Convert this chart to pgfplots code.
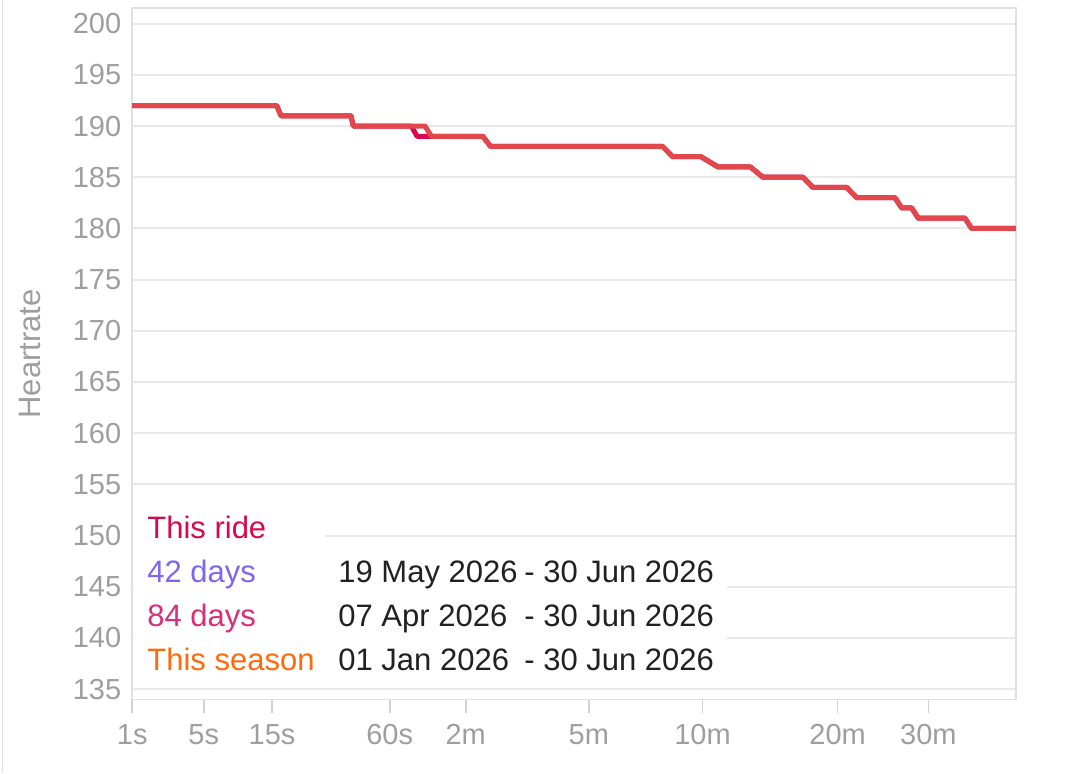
\documentclass[border=0pt]{standalone}
\usepackage{fontspec}
\setmainfont{Liberation Sans}
\usepackage{pgfplots}
\pgfplotsset{compat=1.18}

\definecolor{ticktext}{HTML}{9E9E9E}
\definecolor{gridgray}{HTML}{E9E9E9}
\definecolor{framegray}{HTML}{E0E0E0}
\definecolor{tickgray}{HTML}{D2D2D2}
\definecolor{rideColor}{HTML}{D6084F}
\definecolor{bestColor}{HTML}{E1474B}
\definecolor{days42}{HTML}{7B68EE}
\definecolor{days84}{HTML}{D92E7A}
\definecolor{season}{HTML}{FF6A0D}
\definecolor{datetext}{HTML}{212121}

% mean-maximal heart rate: duration (s), bpm
\pgfplotstableread{
t    hr
1    192
16   192
17   191
40   191
41   190
74   190
78   189
138  189
147  188
477  188
506  187
595  187
654  186
778  186
830  185
1016 185
1066 184
1252 184
1311 183
1558 183
1604 182
1676 182
1724 181
2097 181
2155 180
2568 180
}\rideData

\pgfplotstableread{
t    hr
1    192
16   192
17   191
40   191
41   190
84   190
89   189
138  189
147  188
477  188
506  187
595  187
654  186
778  186
830  185
1016 185
1066 184
1252 184
1311 183
1558 183
1604 182
1676 182
1724 181
2097 181
2155 180
2568 180
}\bestData

\begin{document}
\begin{tikzpicture}
\useasboundingbox (-66.15pt,-36.85pt) rectangle (473.85pt,349.65pt);
\draw[framegray, line width=0.6pt] (-64.8pt,-36.85pt) -- (-64.8pt,349.65pt);
\begin{axis}[
  at={(0,0)}, anchor=south west,
  scale only axis, width=441.7pt, height=345.5pt,
  xmin=1, xmax=2568, ymin=134, ymax=201.5,
  x coord trafo/.code={\pgfmathparse{(#1)^0.25}},
  x coord inv trafo/.code={\pgfmathparse{(#1)^4}},
  xtick={1,5,15,60,120,300,600,1200,1800},
  xticklabels={1s,5s,15s,60s,2m,5m,10m,20m,30m},
  ytick={135,140,...,200},
  ymajorgrids,
  grid style={gridgray, line width=1pt},
  axis line style={framegray, line width=0.8pt},
  tick pos=left,
  tick align=outside,
  major tick length=7pt,
  xtick style={tickgray, line width=0.8pt},
  ytick style={draw=none},
  /pgf/number format/assume math mode=true,
  ticklabel style={font=\fontsize{14.5}{16}\selectfont, text=ticktext},
  yticklabel style={xshift=5pt},
  xticklabel style={yshift=-2pt},
  ylabel={Heartrate},
  ylabel style={at={(axis description cs:-0.1158,0.5)}, anchor=center,
    font=\fontsize{15.5}{17}\selectfont, text=ticktext},
  clip=false,
]
\addplot[rideColor, line width=2.5pt, line join=round] table[x=t, y=hr] {\rideData};
\addplot[bestColor, line width=2.5pt, line join=round] table[x=t, y=hr] {\bestData};
\end{axis}

% legend block with white backing
\fill[white] (0.6pt,8.65pt) rectangle (297.5pt,77.15pt);
\fill[white] (0.6pt,77.15pt) rectangle (96.3pt,97.15pt);
\begin{scope}[every node/.style={anchor=base west, inner sep=0pt,
    font=\fontsize{15.5}{17}\selectfont}]
\node[text=rideColor] at (7.35pt,80.65pt) {This ride};
\node[text=days42] at (7.35pt,58.65pt) {42 days};
\node[text=days84] at (7.35pt,36.65pt) {84 days};
\node[text=season] at (7.35pt,14.65pt) {This season};
\node[text=datetext] at (102.85pt,58.65pt) {19 May 2026};
\node[text=datetext] at (102.85pt,36.65pt) {07 Apr 2026};
\node[text=datetext] at (102.85pt,14.65pt) {01 Jan 2026};
\node[text=datetext] at (195.85pt,58.65pt) {- 30 Jun 2026};
\node[text=datetext] at (195.85pt,36.65pt) {- 30 Jun 2026};
\node[text=datetext] at (195.85pt,14.65pt) {- 30 Jun 2026};
\end{scope}
\end{tikzpicture}
\end{document}
